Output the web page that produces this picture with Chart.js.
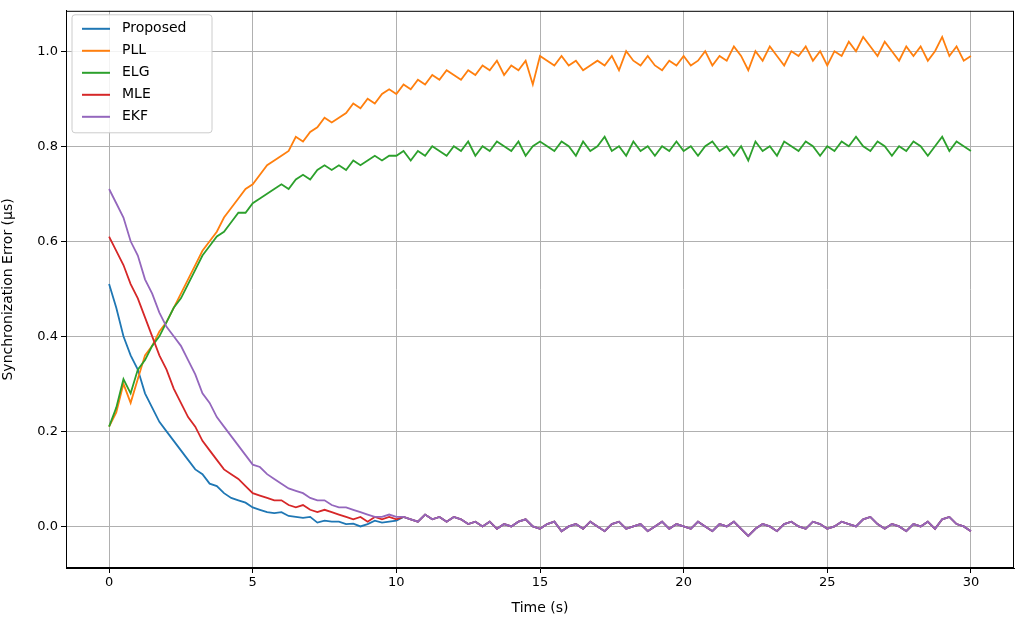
<!DOCTYPE html>
<html>
<head>
<meta charset="utf-8">
<script src="https://cdn.jsdelivr.net/npm/chart.js@4/dist/chart.umd.min.js"></script>
<style>
  html, body { margin: 0; padding: 0; background: #fff; }
  #wrap { width: 1016px; height: 620px; }
</style>
</head>
<body>
<div id="wrap"><canvas id="c" width="1016" height="620"></canvas></div>
<script>
// time step 0.25 s, 0..30 s
const timeStep = 0.25;
const xTicks = [0, 5, 10, 15, 20, 25, 30];
const yTicks = [0.0, 0.2, 0.4, 0.6, 0.8, 1.0];
const seriesNames = ['Proposed', 'PLL', 'ELG', 'MLE', 'EKF'];
const seriesColors = ['#1f77b4', '#ff7f0e', '#2ca02c', '#d62728', '#9467bd'];

// converging methods, 0..10 s
const proposedHead = [
  0.51,0.46,0.40,0.36,0.33,0.28,0.25,0.22,0.20,0.18,
  0.16,0.14,0.12,0.11,0.09,0.085,0.07,0.06,0.055,0.05,
  0.04,0.035,0.03,0.028,0.03,0.022,0.02,0.018,0.02,0.008,
  0.012,0.01,0.01,0.005,0.006,0.0,0.005,0.012,0.008,0.01,
  0.012];
const mleHead = [
  0.61,0.58,0.55,0.51,0.48,0.44,0.40,0.36,0.33,0.29,
  0.26,0.23,0.21,0.18,0.16,0.14,0.12,0.11,0.10,0.085,
  0.07,0.065,0.06,0.055,0.055,0.045,0.04,0.045,0.035,0.03,
  0.035,0.03,0.025,0.02,0.015,0.02,0.01,0.02,0.015,0.02,
  0.015];
const ekfHead = [
  0.71,0.68,0.65,0.60,0.57,0.52,0.49,0.45,0.42,0.40,
  0.38,0.35,0.32,0.28,0.26,0.23,0.21,0.19,0.17,0.15,
  0.13,0.125,0.11,0.10,0.09,0.08,0.075,0.07,0.06,0.055,
  0.055,0.045,0.04,0.04,0.035,0.03,0.025,0.02,0.02,0.025,
  0.02];
// 10.25..30 s, where the three converged curves overlap
const convergedTail = [
  0.02,0.015,0.01,0.025,0.015,0.02,0.01,0.02,0.015,0.005,
  0.01,0.0,0.01,-0.005,0.005,0.0,0.01,0.015,0.0,-0.005,
  0.005,0.01,-0.01,0.0,0.005,-0.005,0.01,0.0,-0.01,0.005,
  0.01,-0.005,0.0,0.005,-0.01,0.0,0.01,-0.005,0.005,0.0,
  -0.005,0.01,0.0,-0.01,0.005,0.0,0.01,-0.005,-0.02,-0.005,
  0.005,0.0,-0.01,0.005,0.01,0.0,-0.005,0.01,0.005,-0.005,
  0.0,0.01,0.005,0.0,0.015,0.02,0.005,-0.005,0.005,0.0,
  -0.01,0.005,0.0,0.01,-0.005,0.015,0.02,0.005,0.0,-0.01];

const pllValues = [
  0.21,0.24,0.30,0.26,0.31,0.36,0.38,0.41,
  0.43,0.46,0.49,0.52,0.55,0.58,0.60,0.62,
  0.65,0.67,0.69,0.71,0.72,0.74,0.76,0.77,
  0.78,0.79,0.82,0.81,0.83,0.84,0.86,0.85,
  0.86,0.87,0.89,0.88,0.90,0.89,0.91,0.92,
  0.91,0.93,0.92,0.94,0.93,0.95,0.94,0.96,
  0.95,0.94,0.96,0.95,0.97,0.96,0.98,0.95,
  0.97,0.96,0.98,0.93,0.99,0.98,0.97,0.99,
  0.97,0.98,0.96,0.97,0.98,0.97,0.99,0.96,
  1.00,0.98,0.97,0.99,0.97,0.96,0.98,0.97,
  0.99,0.97,0.98,1.00,0.97,0.99,0.98,1.01,
  0.99,0.96,1.00,0.98,1.01,0.99,0.97,1.00,
  0.99,1.01,0.98,1.00,0.97,1.00,0.99,1.02,
  1.00,1.03,1.01,0.99,1.02,1.00,0.98,1.01,
  0.99,1.01,0.98,1.00,1.03,0.99,1.01,0.98,
  0.99];
const elgValues = [
  0.21,0.25,0.31,0.28,0.33,0.35,0.38,0.40,
  0.43,0.46,0.48,0.51,0.54,0.57,0.59,0.61,
  0.62,0.64,0.66,0.66,0.68,0.69,0.70,0.71,
  0.72,0.71,0.73,0.74,0.73,0.75,0.76,0.75,
  0.76,0.75,0.77,0.76,0.77,0.78,0.77,0.78,
  0.78,0.79,0.77,0.79,0.78,0.80,0.79,0.78,
  0.80,0.79,0.81,0.78,0.80,0.79,0.81,0.80,
  0.79,0.81,0.78,0.80,0.81,0.80,0.79,0.81,
  0.80,0.78,0.81,0.79,0.80,0.82,0.79,0.80,
  0.78,0.81,0.79,0.80,0.78,0.80,0.79,0.81,
  0.79,0.80,0.78,0.80,0.81,0.79,0.80,0.78,
  0.80,0.77,0.81,0.79,0.80,0.78,0.81,0.80,
  0.79,0.81,0.80,0.78,0.80,0.79,0.81,0.80,
  0.82,0.80,0.79,0.81,0.80,0.78,0.80,0.79,
  0.81,0.80,0.78,0.80,0.82,0.79,0.81,0.80,
  0.79];

const seriesValues = [
  proposedHead.concat(convergedTail),
  pllValues,
  elgValues,
  mleHead.concat(convergedTail),
  ekfHead.concat(convergedTail)
];

function toPoints(vals) {
  return vals.map((v, i) => ({ x: i * timeStep, y: v }));
}

// full box around the plot area
const frameBox = {
  id: 'frameBox',
  afterDraw(chart) {
    const ctx = chart.ctx;
    const a = chart.chartArea;
    ctx.save();
    ctx.strokeStyle = '#000';
    ctx.lineWidth = 1;
    ctx.strokeRect(a.left + 0.5, a.top + 0.5, a.right - a.left - 1, a.bottom - a.top - 1);
    ctx.restore();
  }
};

// legend drawn inside the plot, upper left, matplotlib style
const innerLegend = {
  id: 'innerLegend',
  afterDraw(chart) {
    const ctx = chart.ctx;
    const a = chart.chartArea;
    const x0 = a.left + 6, y0 = a.top + 4;
    const w = 140, rowH = 22, h = rowH * seriesNames.length + 8;
    ctx.save();
    ctx.fillStyle = 'rgba(255,255,255,0.85)';
    ctx.strokeStyle = '#cccccc';
    ctx.lineWidth = 1;
    ctx.beginPath();
    ctx.roundRect(x0, y0, w, h, 3);
    ctx.fill();
    ctx.stroke();
    ctx.font = '14px "DejaVu Sans"';
    ctx.textBaseline = 'middle';
    seriesNames.forEach((name, i) => {
      const y = y0 + 14 + i * rowH;
      ctx.strokeStyle = seriesColors[i];
      ctx.lineWidth = 2;
      ctx.beginPath();
      ctx.moveTo(x0 + 10, y);
      ctx.lineTo(x0 + 38, y);
      ctx.stroke();
      ctx.fillStyle = '#000';
      ctx.fillText(name, x0 + 50, y);
    });
    ctx.restore();
  }
};

new Chart(document.getElementById('c'), {
  type: 'line',
  data: {
    datasets: seriesNames.map((name, i) => ({
      label: name,
      data: toPoints(seriesValues[i]),
      borderColor: seriesColors[i],
      borderWidth: 1.8,
      pointRadius: 0,
      tension: 0,
      order: seriesNames.length - i   // later series drawn on top
    }))
  },
  options: {
    responsive: false,
    animation: false,
    layout: { padding: { top: 5, right: 2, left: 0, bottom: 3 } },
    plugins: { legend: { display: false }, tooltip: { enabled: false } },
    scales: {
      x: {
        type: 'linear',
        min: -1.5, max: 31.5,
        afterFit(s) { s.height = 49; },
        afterBuildTicks(s) { s.ticks = xTicks.map(v => ({ value: v })); },
        ticks: { color: '#000', font: { family: 'DejaVu Sans', size: 13 }, padding: 2 },
        grid: { color: '#b0b0b0', tickColor: '#000', tickLength: 5 },
        border: { color: '#000' },
        title: { display: true, text: 'Time (s)', color: '#000', font: { family: 'DejaVu Sans', size: 14 }, padding: 0 }
      },
      y: {
        min: -0.0875, max: 1.085,
        afterFit(s) { s.width = 66; },
        afterBuildTicks(s) { s.ticks = yTicks.map(v => ({ value: v })); },
        ticks: { color: '#000', font: { family: 'DejaVu Sans', size: 13 }, callback: v => v.toFixed(1) },
        grid: { color: '#b0b0b0', tickColor: '#000', tickLength: 5 },
        border: { color: '#000' },
        title: { display: true, text: 'Synchronization Error (µs)', color: '#000', font: { family: 'DejaVu Sans', size: 14 }, padding: 0 }
      }
    }
  },
  plugins: [frameBox, innerLegend]
});
</script>
</body>
</html>
